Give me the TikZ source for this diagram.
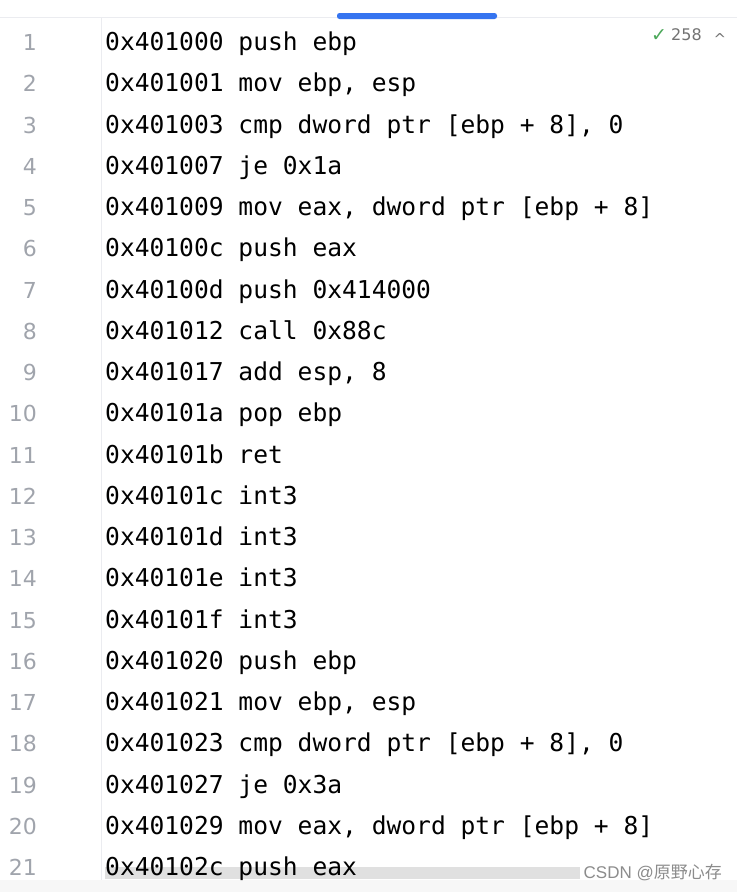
\documentclass[tikz,border=0pt]{standalone}
\usepackage{fontspec}
\setmonofont{DejaVu Sans Mono}
\setsansfont{DejaVu Sans}
\newfontfamily\cjk{Noto Sans CJK SC}
\definecolor{numgray}{HTML}{A0A4AC}
\definecolor{linegray}{HTML}{EBECF0}
\definecolor{tabblue}{HTML}{3574F0}
\definecolor{okgreen}{HTML}{4CA85A}
\begin{document}
\begin{tikzpicture}[x=1pt,y=-1pt,
  code/.style={anchor=base west,inner sep=0,font=\ttfamily\fontsize{24.6}{26}\selectfont},
  lnum/.style={anchor=base east,inner sep=0,text=numgray,font=\sffamily\fontsize{22}{23}\selectfont}]
\useasboundingbox (0,0) rectangle (737,892);
\fill[white] (0,0) rectangle (737,892);
\draw[linegray,line width=1.2] (0,17.5) -- (737,17.5);
\fill[tabblue,rounded corners=2.5] (337,13) rectangle (497,19);
\draw[linegray,line width=1] (101.5,18) -- (101.5,880);
\fill[black!3] (0,880) rectangle (737,892);
\fill[black!12] (105,867) rectangle (580,879);
\def\lines{{"0x401000 push ebp","0x401001 mov ebp, esp","0x401003 cmp dword ptr [ebp + 8], 0","0x401007 je 0x1a","0x401009 mov eax, dword ptr [ebp + 8]","0x40100c push eax","0x40100d push 0x414000","0x401012 call 0x88c","0x401017 add esp, 8","0x40101a pop ebp","0x40101b ret","0x40101c int3","0x40101d int3","0x40101e int3","0x40101f int3","0x401020 push ebp","0x401021 mov ebp, esp","0x401023 cmp dword ptr [ebp + 8], 0","0x401027 je 0x3a","0x401029 mov eax, dword ptr [ebp + 8]","0x40102c push eax"}}
\foreach \i in {1,...,21}{
  \pgfmathsetmacro{\yy}{50.5+(\i-1)*41.25}
  \pgfmathparse{\lines[\i-1]}\let\txt\pgfmathresult
  \node[lnum] (n\i) at (37,\yy) {\i};
  \node[code] (c\i) at (105,\yy) {\txt};
}
\node[anchor=west,inner sep=0,text=okgreen,font=\fontspec{DejaVu Sans}\fontsize{19}{20}\selectfont] (chk) at (651,36) {✓};
\node[anchor=west,inner sep=0,text=black!55,font=\sffamily\fontsize{16}{17}\selectfont] (cnt) at (671,35) {258};
\node[anchor=center,inner sep=0,text=black!55,font=\sffamily\fontsize{15}{16}\selectfont] (car) at (720,39) {\^{}};
\node[anchor=east,inner sep=0,text=black!45,font=\fontspec{Liberation Sans}\fontsize{17}{18}\selectfont] (wm) at (722,873) {CSDN @{\cjk 原野心存}};
\end{tikzpicture}
\end{document}
